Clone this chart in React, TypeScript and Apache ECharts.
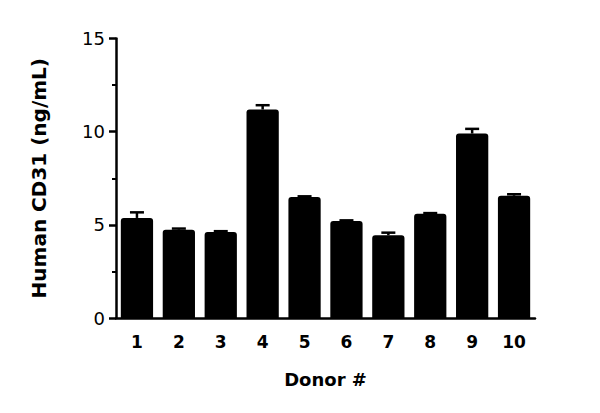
import React, { useEffect, useRef } from 'react';
import * as echarts from 'echarts';

const donors = ['1', '2', '3', '4', '5', '6', '7', '8', '9', '10'];
const cd31Mean = [5.37, 4.74, 4.62, 11.19, 6.5, 5.21, 4.44, 5.6, 9.9, 6.56];
const cd31Sem = [0.3, 0.06, 0.04, 0.23, 0.03, 0.03, 0.14, 0.03, 0.25, 0.08];

const FONT = "'DejaVu Sans', sans-serif";

const App: React.FC = () => {
  const chartRef = useRef<HTMLDivElement>(null);

  useEffect(() => {
    if (!chartRef.current) return;
    const chart = echarts.init(chartRef.current, null, { renderer: 'svg' });

    chart.setOption({
      animation: false,
      backgroundColor: '#fff',
      grid: { left: 116, right: 65, top: 38.5, bottom: 95 },
      xAxis: {
        type: 'category',
        data: donors,
        name: 'Donor #',
        nameLocation: 'middle',
        nameGap: 52,
        nameTextStyle: { fontFamily: FONT, fontWeight: 'bold', fontSize: 18, color: '#000' },
        axisLine: { lineStyle: { color: '#000', width: 2.5 } },
        axisTick: { alignWithLabel: true, length: 7, lineStyle: { color: '#000', width: 2.5 } },
        axisLabel: { margin: 15, fontFamily: FONT, fontWeight: 'bold', fontSize: 17, color: '#000' },
      },
      yAxis: {
        type: 'value',
        min: 0,
        max: 15,
        interval: 5,
        name: 'Human CD31 (ng/mL)',
        nameLocation: 'middle',
        nameGap: 67,
        nameTextStyle: { fontFamily: FONT, fontWeight: 'bold', fontSize: 20, color: '#000' },
        axisLine: { show: true, lineStyle: { color: '#000', width: 2.5 } },
        axisTick: { show: true, length: 7, lineStyle: { color: '#000', width: 2.5 } },
        minorTick: { show: true, splitNumber: 2, length: 4, lineStyle: { color: '#000', width: 2 } },
        splitLine: { show: false },
        axisLabel: { margin: 11, fontFamily: FONT, fontSize: 18, color: '#000' },
      },
      series: [
        {
          type: 'bar',
          data: cd31Mean,
          barWidth: '77%',
          itemStyle: { color: '#000', borderRadius: [3, 3, 0, 0] },
        },
        {
          type: 'custom',
          data: cd31Mean.map((m, i) => [i, m, m + cd31Sem[i]]),
          z: 3,
          renderItem: (params: any, api: any) => {
            const x = api.value(0);
            const base = api.coord([x, api.value(1)]);
            const top = api.coord([x, api.value(2)]);
            const half = 7;
            const style = { stroke: '#000', lineWidth: 2.5 };
            return {
              type: 'group',
              children: [
                { type: 'line', shape: { x1: base[0], y1: base[1], x2: top[0], y2: top[1] }, style },
                { type: 'line', shape: { x1: top[0] - half, y1: top[1], x2: top[0] + half, y2: top[1] }, style },
              ],
            };
          },
        },
      ],
    });

    return () => chart.dispose();
  }, []);

  return <div ref={chartRef} style={{ width: 600, height: 413, margin: -8 }} />;
};

export default App;
